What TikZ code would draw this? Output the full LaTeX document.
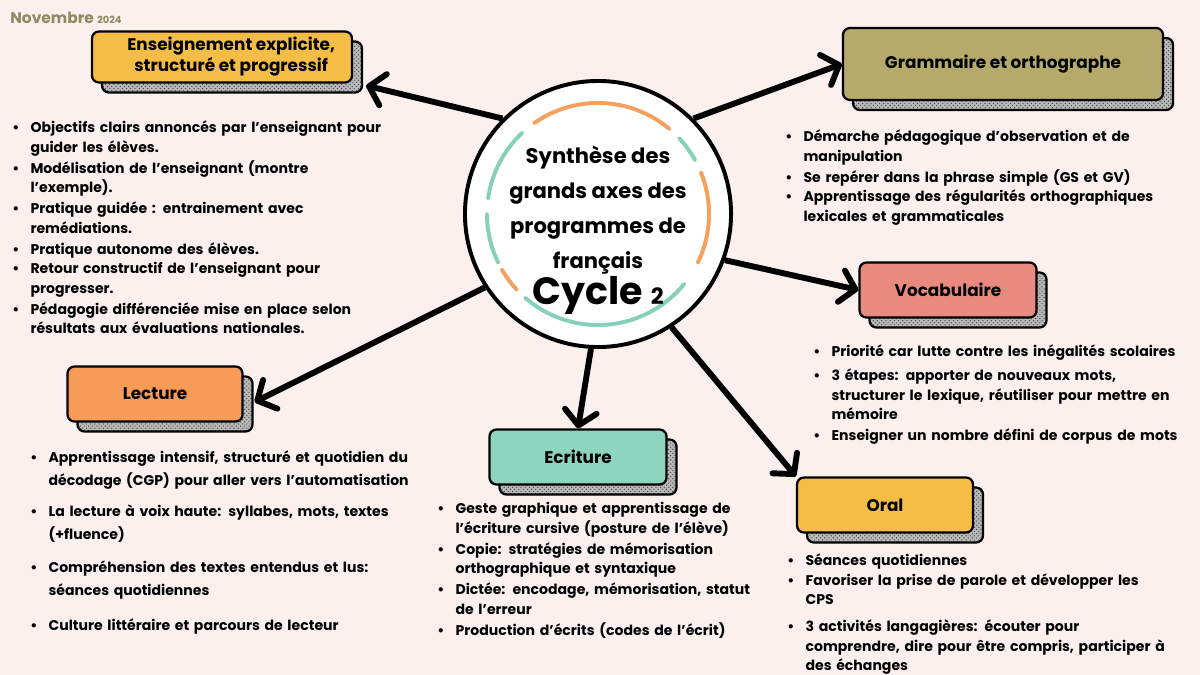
\documentclass[tikz,border=0pt]{standalone}
\usepackage{fontspec}
\setmainfont{Poppins}
\usetikzlibrary{arrows.meta}
\usetikzlibrary{calc}
\usetikzlibrary{patterns}
\usetikzlibrary{positioning}

\definecolor{fond}{HTML}{FCF0EF}
\definecolor{jaune}{HTML}{F5BD45}
\definecolor{olive}{HTML}{B5AA6B}
\definecolor{saumon}{HTML}{E98A7E}
\definecolor{orangef}{HTML}{F89B57}
\definecolor{vertd}{HTML}{8DD5BE}
\definecolor{arcorange}{HTML}{F5A05C}
\definecolor{arcvert}{HTML}{86D0BB}
\definecolor{datecol}{HTML}{8C8B62}
\definecolor{ombre}{HTML}{B8B8B8}

% puce avec retrait
\newcommand{\puce}[2][0pt]{\par\vspace{#1}\noindent\makebox[1.3em][l]{\textbullet}\begin{tabular}[t]{@{}l@{}}#2\end{tabular}\par}

\tikzset{
	boite/.style={draw, line width=1.6pt, rounded corners=5pt, inner sep=2pt, align=center,
		font=\fontsize{12}{15}\selectfont\bfseries,
		preaction={fill=ombre, transform canvas={xshift=2.5mm, yshift=-2.5mm}},
		preaction={draw, line width=1.6pt, pattern=crosshatch dots, pattern color=black!70,
			transform canvas={xshift=2.5mm, yshift=-2.5mm}}},
	liste/.style={anchor=north west, inner sep=0pt, align=left, text width=11cm,
		font=\fontsize{10}{13.9}\selectfont\bfseries},
	arc/.style={line width=2.8pt, line cap=round},
	fleche/.style={->, line width=4.2pt},
}

\begin{document}
\begin{tikzpicture}[x=0.025cm, y=0.025cm, >={Straight Barb[round, length=3.6mm, width=8mm]}]
	\fill[fond] (0,0) rectangle (1200,-675);
	\useasboundingbox (0,0) rectangle (1200,-675);

	\node[anchor=west, inner sep=0pt, text=datecol] (date) at (10,-18)
		{\fontsize{11}{11}\selectfont\bfseries Novembre {\fontsize{7}{7}\selectfont 2024}};

	% cercle central
	\node[circle, draw, line width=2.8pt, fill=white, minimum size=6.65cm] (synth) at (598,-214) {};
	\draw[arc, arcorange] ($(synth.center)+(50:2.775cm)$) arc[start angle=50, end angle=125, radius=2.775cm];
	\draw[arc, arcvert] ($(synth.center)+(29:2.775cm)$) arc[start angle=29, end angle=43, radius=2.775cm];
	\draw[arc, arcorange] ($(synth.center)+(-26:2.775cm)$) arc[start angle=-26, end angle=22, radius=2.775cm];
	\draw[arc, arcvert] ($(synth.center)+(-131:2.775cm)$) arc[start angle=-131, end angle=-39, radius=2.775cm];
	\draw[arc, arcorange] ($(synth.center)+(-150:2.775cm)$) arc[start angle=-150, end angle=-137, radius=2.775cm];
	\draw[arc, arcvert] ($(synth.center)+(133:2.775cm)$) arc[start angle=133, end angle=172, radius=2.775cm];
	\draw[arc, arcvert] ($(synth.center)+(180:2.775cm)$) arc[start angle=180, end angle=206, radius=2.775cm];
	\node[align=center, font=\fontsize{15}{25}\selectfont\bfseries] (titre) at (598,-230)
		{Synthèse des\\ grands axes des\\ programmes de\\ français\\
		 {\fontsize{27}{30}\selectfont Cycle {\fontsize{16}{16}\selectfont 2}}};

	% boites
	\node[boite, fill=jaune, minimum width=6.5cm, minimum height=1.275cm] (enseign) at (222,-57)
		{\hspace*{13pt}Enseignement explicite,\\ \hspace*{13pt}structuré et progressif};
	\node[boite, fill=olive, minimum width=8cm, minimum height=1.8cm] (gram) at (1003,-64)
		{Grammaire et orthographe};
	\node[boite, fill=saumon, minimum width=4.425cm, minimum height=1.375cm] (vocab) at (948,-290)
		{Vocabulaire};
	\node[boite, fill=orangef, minimum width=4.375cm, minimum height=1.375cm] (lecture) at (155,-394)
		{Lecture};
	\node[boite, fill=vertd, minimum width=4.425cm, minimum height=1.375cm] (ecriture) at (578,-457)
		{Ecriture};
	\node[boite, fill=jaune, minimum width=4.4cm, minimum height=1.375cm] (oral) at (885,-505)
		{Oral};

	% fleches
	\draw[fleche] (synth.135) -- ($(enseign.south east)+(13,-2)$);
	\draw[fleche] (synth.45) -- (gram.west);
	\draw[fleche] (synth.-20) -- (vocab.west);
	\draw[fleche] (synth.-147) -- ($(lecture.east)+(11,-8)$);
	\draw[fleche] (synth.-93) -- (ecriture.north);
	\draw[fleche] (synth.-57) -- (oral.north west);

	% listes
	\node[liste] (l-enseign) at (12,-113) {%
		\puce{Objectifs clairs annoncés par l’enseignant pour\\ guider les élèves.}
		\puce{Modélisation de l’enseignant (montre\\ l’exemple).}
		\puce{Pratique guidée : entrainement avec\\ remédiations.}
		\puce{Pratique autonome des élèves.}
		\puce{Retour constructif de l’enseignant pour\\ progresser.}
		\puce{Pédagogie différenciée mise en place selon\\ résultats aux évaluations nationales.}};
	\node[liste] (l-gram) at (785,-122) {%
		\puce{Démarche pédagogique d’observation et de\\ manipulation}
		\puce{Se repérer dans la phrase simple (GS et GV)}
		\puce{Apprentissage des régularités orthographiques\\ lexicales et grammaticales}};
	\node[liste] (l-vocab) at (813,-337) {%
		\puce{Priorité car lutte contre les inégalités scolaires}
		\puce[3pt]{3 étapes: apporter de nouveaux mots,\\ structurer le lexique, réutiliser pour mettre en\\ mémoire}
		\puce{Enseigner un nombre défini de corpus de mots}};
	\node[liste, font=\fontsize{10}{16.4}\selectfont\bfseries] (l-lecture) at (30,-439) {%
		\puce{Apprentissage intensif, structuré et quotidien du\\ décodage (CGP) pour aller vers l’automatisation}
		\puce[5pt]{La lecture à voix haute: syllabes, mots, textes\\ (+fluence)}
		\puce[6pt]{Compréhension des textes entendus et lus:\\ séances quotidiennes}
		\puce[7pt]{Culture littéraire et parcours de lecteur}};
	\node[liste] (l-ecriture) at (437,-494) {%
		\puce{Geste graphique et apprentissage de\\ l’écriture cursive (posture de l’élève)}
		\puce{Copie: stratégies de mémorisation\\ orthographique et syntaxique}
		\puce{Dictée: encodage, mémorisation, statut\\ de l’erreur}
		\puce{Production d’écrits (codes de l’écrit)}};
	\node[liste] (l-oral) at (787,-546) {%
		\puce{Séances quotidiennes}
		\puce{Favoriser la prise de parole et développer les\\ CPS}
		\puce[4pt]{3 activités langagières: écouter pour\\ comprendre, dire pour être compris, participer à\\ des échanges}};
\end{tikzpicture}
\end{document}
